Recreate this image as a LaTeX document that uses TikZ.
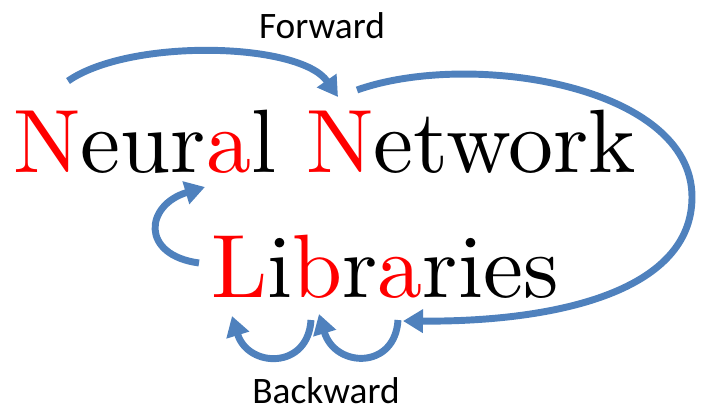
\documentclass[tikz,border=0pt]{standalone}
\usepackage{fontspec}
\usetikzlibrary{arrows.meta}
\newfontfamily\cmfont{lmroman10-regular}[Extension=.otf]
\newfontfamily\calfont{Carlito}
\definecolor{flowblue}{RGB}{79,129,189}
\newcommand{\hl}[1]{\textcolor{red}{#1}}

\begin{document}
\begin{tikzpicture}[x=0.75pt,y=0.75pt,yscale=-1,xscale=1,
  flow/.style={draw=flowblue, line width=5.2pt, -{Triangle[length=15pt,width=17pt]}},
  bigword/.style={inner sep=0pt, anchor=base west, font=\cmfont\fontsize{67.5pt}{80pt}\selectfont},
  tag/.style={inner sep=0pt, anchor=base, font=\calfont\fontsize{28pt}{33pt}\selectfont}]
\useasboundingbox (0,0) rectangle (703,417);

% Text Node
\node [bigword] (nn) at (13,173) {\hl{N}eur\hl{a}l \hl{N}etwork};
% Text Node
\node [bigword] (lib) at (211,297) {\hl{L}i\hl{b}r\hl{a}ries};
% Text Node
\node [tag] (fwd) at (322,39) {Forward};
% Text Node
\node [tag] (bwd) at (326,403) {Backward};

%Curve ends
\coordinate (fwdA) at (68,81);
\coordinate (fwdB) at (338,97);
\coordinate (loopA) at (357,90);
\coordinate (loopM) at (692,197);
\coordinate (loopB) at (403,321);
\coordinate (curlA) at (199,263);
\coordinate (curlB) at (205,187);
\coordinate (bwdA) at (311,320);
\coordinate (bwdB) at (232,316);
\coordinate (bwdC) at (398,320);
\coordinate (bwdD) at (319,314);

%Curve Lines
\draw [flow] (fwdA) .. controls (130,38) and (300,42) .. (fwdB);
%Curve Lines
\draw [flow] (loopA) .. controls (470,50) and (692,85) .. (loopM) .. controls (692,290) and (560,322) .. (loopB);
%Curve Lines
\draw [flow] (curlA) .. controls (140,255) and (145,205) .. (curlB);
%Curve Lines
\draw [flow] (bwdA) .. controls (308,370) and (248,368) .. (bwdB);
%Curve Lines
\draw [flow] (bwdC) .. controls (395,370) and (335,368) .. (bwdD);

\end{tikzpicture}
\end{document}
